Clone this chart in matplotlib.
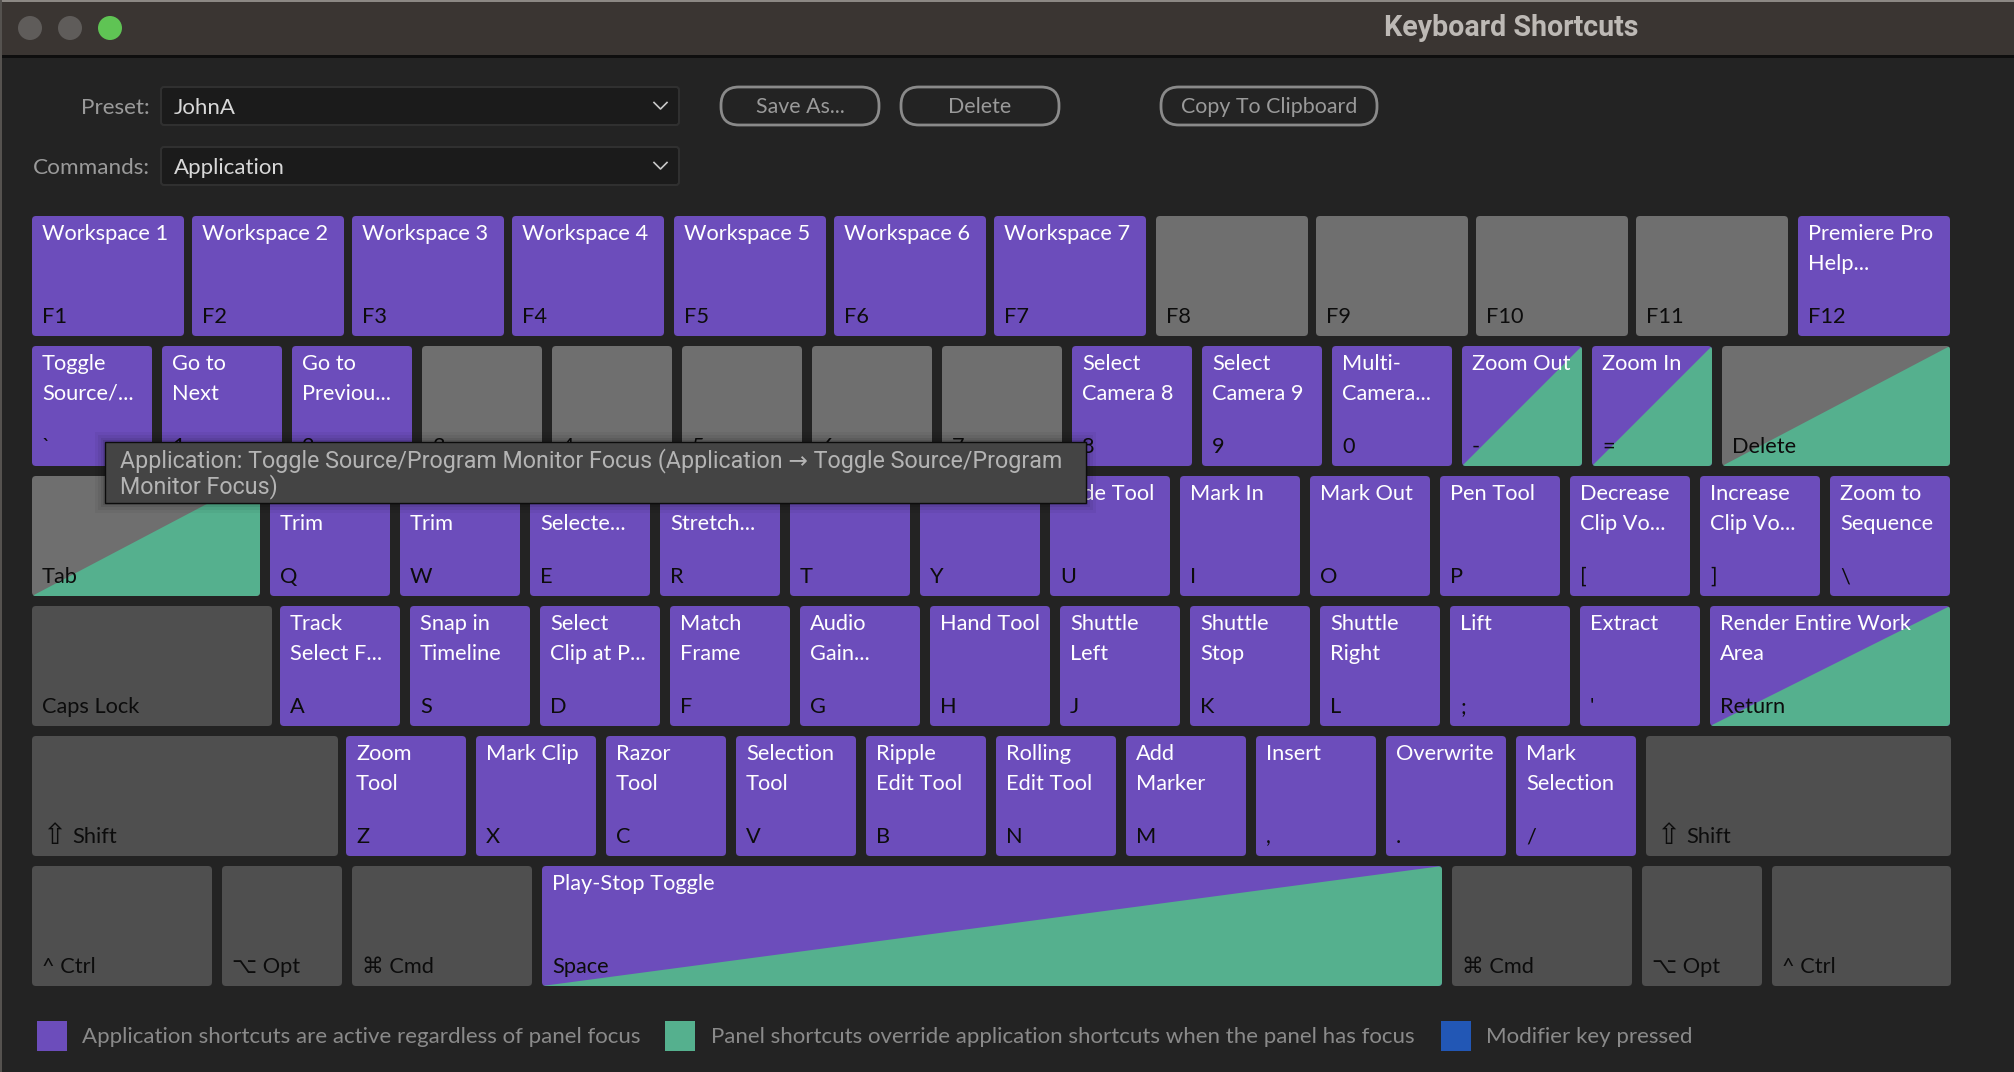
import matplotlib
matplotlib.use("Agg")
import matplotlib.pyplot as plt
from matplotlib.patches import FancyBboxPatch, Polygon, Rectangle, Circle

FONT = ['Lato', 'DejaVu Sans']
plt.rcParams['font.family'] = FONT

# --- content -----------------------------------------------------------
row_f_labels = ["Workspace 1", "Workspace 2", "Workspace 3", "Workspace 4", "Workspace 5", "Workspace 6",
                "Workspace 7", "", "", "", "", "Premiere Pro\nHelp..."]
row_f_keys = ["F1", "F2", "F3", "F4", "F5", "F6", "F7", "F8", "F9", "F10", "F11", "F12"]
row_f_kinds = ["a"] * 7 + ["u"] * 4 + ["a"]

row_num_labels = ["Toggle\nSource/...", "Go to\nNext", "Go to\nPreviou...", "", "", "", "", "",
                  "Select\nCamera 8", "Select\nCamera 9", "Multi-\nCamera...", "Zoom Out", "Zoom In", ""]
row_num_keys = ["`", "1", "2", "3", "4", "5", "6", "7", "8", "9", "0", "-", "=", "Delete"]
row_num_kinds = ["a", "a", "a", "u", "u", "u", "u", "u", "a", "a", "a", "ap", "ap", "up"]

row_q_labels = ["", "Ripple\nTrim", "Ripple\nTrim", "Extend\nSelecte...", "Rate\nStretch...", "Type Tool", "Slip Tool",
                "Slide Tool", "Mark In", "Mark Out", "Pen Tool", "Decrease\nClip Vo...", "Increase\nClip Vo...",
                "Zoom to\nSequence"]
row_q_keys = ["Tab", "Q", "W", "E", "R", "T", "Y", "U", "I", "O", "P", "[", "]", "\\"]
row_q_kinds = ["up"] + ["a"] * 13

row_a_labels = ["", "Track\nSelect F...", "Snap in\nTimeline", "Select\nClip at P...", "Match\nFrame", "Audio\nGain...",
                "Hand Tool", "Shuttle\nLeft", "Shuttle\nStop", "Shuttle\nRight", "Lift", "Extract",
                "Render Entire Work\nArea"]
row_a_keys = ["Caps Lock", "A", "S", "D", "F", "G", "H", "J", "K", "L", ";", "'", "Return"]
row_a_kinds = ["m"] + ["a"] * 11 + ["ap"]

row_z_labels = ["", "Zoom\nTool", "Mark Clip", "Razor\nTool", "Selection\nTool", "Ripple\nEdit Tool", "Rolling\nEdit Tool",
                "Add\nMarker", "Insert", "Overwrite", "Mark\nSelection", ""]
row_z_keys = ["\u21e7 Shift", "Z", "X", "C", "V", "B", "N", "M", ",", ".", "/", "\u21e7 Shift"]
row_z_kinds = ["m"] + ["a"] * 10 + ["m"]

row_s_labels = ["", "", "", "Play-Stop Toggle", "", "", ""]
row_s_keys = ["^ Ctrl", "\u2325 Opt", "\u2318 Cmd", "Space", "\u2318 Cmd", "\u2325 Opt", "^ Ctrl"]
row_s_kinds = ["m", "m", "m", "ap", "m", "m", "m"]

legend_texts = ["Application shortcuts are active regardless of panel focus",
                "Panel shortcuts override application shortcuts when the panel has focus",
                "Modifier key pressed"]
tooltip_lines = ["Application: Toggle Source/Program Monitor Focus (Application \u2192 Toggle Source/Program",
                 "Monitor Focus)"]

# --- style / layout ----------------------------------------------------
BG, BAR = "#232323", "#3a3532"
PURPLE, GREEN, BLUE = "#6c4dbb", "#55b08e", "#2257b5"
UNSET, MOD = "#6f6f6f", "#4f4f4f"
FS = 15.7

W, H = 2014, 1072
fig = plt.figure(figsize=(W / 100, H / 100), dpi=100, facecolor=BG)
ax = fig.add_axes([0, 0, 1, 1])
ax.set_xlim(0, W)
ax.set_ylim(H, 0)
ax.axis("off")


def rbox(x0, y0, x1, y1, r, **kw):
    p = FancyBboxPatch((x0 + r, y0 + r), x1 - x0 - 2 * r, y1 - y0 - 2 * r,
                       boxstyle=f"round,pad={r},rounding_size={r}", **kw)
    ax.add_patch(p)
    return p


def key(x0, y0, x1, label, name, kind):
    y1 = y0 + 120
    base = {"a": PURPLE, "u": UNSET, "m": MOD}[kind[0]]
    box = rbox(x0, y0, x1, y1, 4, fc=base, ec="none", zorder=2)
    if kind.endswith("p"):
        tri = Polygon([(x0, y1), (x1, y0), (x1, y1)], closed=True, fc=GREEN, ec="none", zorder=3)
        ax.add_patch(tri)
        tri.set_clip_path(box)
    if label:
        for i, line in enumerate(label.split("\n")):
            ax.text(x0 + 10, y0 + 17.5 + 30 * i, line, color="white", fontsize=FS, va="center", ha="left", zorder=4)
    if name.startswith("\u21e7"):
        ax.text(x0 + 10, y0 + 100, "\u21e7", color="#0c0c0c", fontsize=FS + 5, va="center", ha="left", zorder=4)
        ax.text(x0 + 40, y0 + 101, name[2:], color="#0c0c0c", fontsize=FS, va="center", ha="left", zorder=4)
    else:
        ax.text(x0 + 10, y0 + 101, name, color="#0c0c0c", fontsize=FS, va="center", ha="left", zorder=4)


def row(y, starts, ends, labels, names, kinds):
    for x0, x1, l, n, k in zip(starts, ends, labels, names, kinds):
        key(x0, y, x1, l, n, k)


def pitch(start, n, step=130, width=120):
    s = [start + step * i for i in range(n)]
    return s, [v + width for v in s]


# window
ax.add_patch(Rectangle((0, 0), W, 56, fc=BAR, ec="none", zorder=1))
ax.add_patch(Rectangle((0, 55), W, 2.5, fc="#0e0e0e", ec="none", zorder=1.5))
ax.add_patch(Rectangle((0, 0), W, 2, fc="#8c8884", ec="none", zorder=1.5))
ax.add_patch(Rectangle((0, 0), 2, H, fc="#55524f", ec="none", zorder=1.5))
for cx, c in zip((30, 70, 110), ("#5f5c5a", "#5f5c5a", "#5fc454")):
    ax.add_patch(Circle((cx, 28), 12, fc=c, ec="none", zorder=2))
ax.text(1511, 28, "Keyboard Shortcuts", color="#bdb9b5", fontsize=20.6, fontweight="bold",
        family=['Roboto', 'DejaVu Sans'], ha="center", va="center", zorder=3)

# controls
for y, lab, val in ((87, "Preset:", "JohnA"), (147, "Commands:", "Application")):
    ax.text(150, y + 20.5, lab, color="#9a9a9a", fontsize=16.2, ha="right", va="center")
    rbox(161, y, 679, y + 38, 3, fc="#1b1b1b", ec="#303030", lw=1.5)
    ax.text(174, y + 20.5, val, color="#d8d8d8", fontsize=16, ha="left", va="center")
    ax.plot([654, 660.5, 667], [y + 15.5, y + 22, y + 15.5], color="#c8c8c8", lw=1.2, zorder=3)
for x0, x1, lab in ((721, 879, "Save As..."), (901, 1059, "Delete"), (1161, 1377, "Copy To Clipboard")):
    rbox(x0, 87, x1, 125, 18, fc=BG, ec="#8a8a8a", lw=2)
    ax.text((x0 + x1) / 2, 107, lab, color="#9a9a9a", fontsize=15.4, ha="center", va="center")

# keyboard
f_s = [32, 192, 352, 512, 674, 834, 994, 1156, 1316, 1476, 1636, 1798]
row(216, f_s, [v + 152 for v in f_s], row_f_labels, row_f_keys, row_f_kinds)

s, e = pitch(32, 13)
row(346, s + [1722], e + [1950], row_num_labels, row_num_keys, row_num_kinds)

s, e = pitch(270, 13)
row(476, [32] + s, [260] + e, row_q_labels, row_q_keys, row_q_kinds)

s, e = pitch(280, 11)
row(606, [32] + s + [1710], [272] + e + [1950], row_a_labels, row_a_keys, row_a_kinds)

s, e = pitch(346, 10)
row(736, [32] + s + [1646], [338] + e + [1951], row_z_labels, row_z_keys, row_z_kinds)

row(866, [32, 222, 352, 542, 1452, 1642, 1772], [212, 342, 532, 1442, 1632, 1762, 1951],
    row_s_labels, row_s_keys, row_s_kinds)

# tooltip
for g, a in ((10, 0.04), (7, 0.05), (4, 0.07), (2, 0.09)):
    ax.add_patch(Rectangle((105 - g, 442 - g), 981 + 2 * g, 61 + 2 * g, fc="black", alpha=a, ec="none", zorder=5))
ax.add_patch(Rectangle((105, 442), 981, 61, fc="#444444", ec="#0c0c0c", lw=1, zorder=6))
for y, line in zip((461, 487), tooltip_lines):
    ax.text(120, y, line, color="#b4b4b4", fontsize=16.75, family=['Roboto', 'DejaVu Sans'],
            ha="left", va="center", zorder=7)

# legend
for x, c, t, tx in zip((37, 665, 1441), (PURPLE, GREEN, BLUE), legend_texts, (82, 711, 1486)):
    ax.add_patch(Rectangle((x, 1021), 30, 30, fc=c, ec="none"))
    ax.text(tx, 1037, t, color="#8a8a8a", fontsize=16, ha="left", va="center")

fig.savefig("out.png", dpi=100, facecolor=BG)
